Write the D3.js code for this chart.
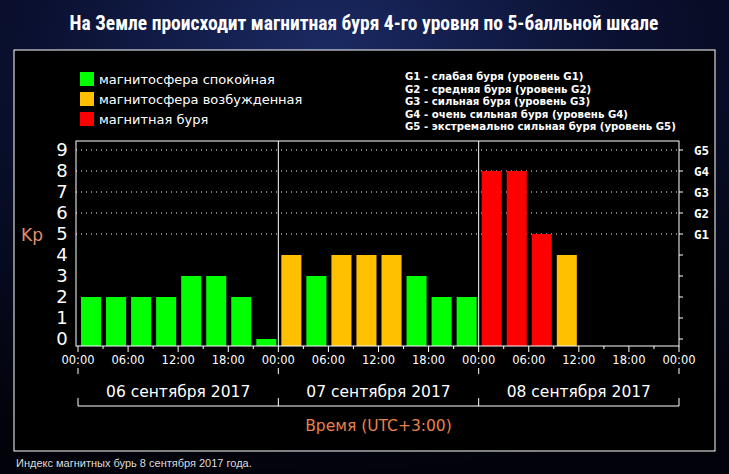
<!DOCTYPE html>
<html><head><meta charset="utf-8">
<script src="https://cdn.jsdelivr.net/npm/d3@7/dist/d3.min.js"></script>
<style>body{margin:0;background:#000}svg{display:block}</style>
</head><body><svg id="c" width="729" height="474"></svg>
<script>
const days = ["06 сентября 2017","07 сентября 2017","08 сентября 2017"];
const hours = ["00:00","06:00","12:00","18:00"];
const kpValues = [2,2,2,2,3,3,2,0, 4,3,4,4,4,3,2,2, 8,8,5,4];
const kpLevel  = ["q","q","q","q","q","q","q","q", "a","q","a","a","a","q","q","q", "s","s","s","a"];
const yTicks = [0,1,2,3,4,5,6,7,8,9];
const gLabels = ["G1","G2","G3","G4","G5"];
const gKp = [5,6,7,8,9];
const legendItems = [["q","магнитосфера спокойная"],["a","магнитосфера возбужденная"],["s","магнитная буря"]];
const gLegend = ["G1 - слабая буря (уровень G1)","G2 - средняя буря (уровень G2)","G3 - сильная буря (уровень G3)","G4 - очень сильная буря (уровень G4)","G5 - экстремально сильная буря (уровень G5)"];
const colors = {q:"#00ff00",a:"#ffc000",s:"#ff0000"};

const svg = d3.select("#c");
const defs = svg.append("defs");
const rg = defs.append("radialGradient").attr("id","bg").attr("cx","0.45").attr("cy","0.1").attr("r","0.9");
rg.append("stop").attr("offset","0").attr("stop-color","#1b2a63");
rg.append("stop").attr("offset","0.45").attr("stop-color","#0a1030");
rg.append("stop").attr("offset","1").attr("stop-color","#02030a");
svg.append("rect").attr("width",729).attr("height",474).attr("fill","url(#bg)");
svg.append("rect").attr("x",14).attr("y",50).attr("width",701).attr("height",401).attr("fill","#000").attr("stroke","#fff").attr("stroke-width",1);

svg.append("text").attr("x",364).attr("y",30).attr("text-anchor","middle").attr("fill","#fff")
  .attr("font-family","Liberation Sans Narrow, Roboto Condensed, sans-serif").attr("font-weight","bold").attr("font-size",19.5)
  .text("На Земле происходит магнитная буря 4-го уровня по 5-балльной шкале");

legendItems.forEach((d,i)=>{
  const y = 72 + i*20;
  svg.append("rect").attr("x",80).attr("y",y).attr("width",14).attr("height",14).attr("fill",colors[d[0]]);
  svg.append("text").attr("x",99).attr("y",y+12).attr("fill","#fff").attr("font-family","DejaVu Sans, sans-serif").attr("font-size",13).text(d[1]);
});
gLegend.forEach((t,i)=>{
  svg.append("text").attr("x",405).attr("y",80+i*12.5).attr("fill","#fff").attr("font-family","DejaVu Sans, sans-serif").attr("font-weight","bold").attr("font-size",10.2).text(t);
});

const L=76, R=679, T=141, B=346;
const x = d3.scaleLinear().domain([0,72]).range([78,679]);
const y = d3.scaleLinear().domain([0,9]).range([339,150]);

svg.append("g").selectAll("line").data(yTicks.filter(v=>v>=5)).join("line")
  .attr("x1",L).attr("x2",R).attr("y1",d=>y(d)).attr("y2",d=>y(d))
  .attr("stroke","#fff").attr("stroke-dasharray","1,4").attr("stroke-width",1);

svg.append("g").selectAll("rect").data(kpValues).join("rect")
  .attr("x",(d,i)=>x(i*3)+3).attr("width",x(3)-x(0)-5)
  .attr("y",d=>y(d)).attr("height",d=>B-y(d))
  .attr("fill",(d,i)=>colors[kpLevel[i]]);

svg.append("rect").attr("x",L).attr("y",T).attr("width",R-L).attr("height",B-T).attr("fill","none").attr("stroke","#fff");
[24,48].forEach(h=>svg.append("line").attr("x1",x(h)).attr("x2",x(h)).attr("y1",T).attr("y2",B).attr("stroke","#fff"));

svg.append("g").selectAll("text").data(yTicks).join("text")
  .attr("x",62).attr("y",d=>y(d)+6).attr("text-anchor","middle").attr("fill","#fff")
  .attr("font-family","DejaVu Sans, sans-serif").attr("font-size",18).text(d=>d);
svg.append("text").attr("x",32).attr("y",241).attr("text-anchor","middle").attr("fill","#e0906a")
  .attr("font-family","DejaVu Sans, sans-serif").attr("font-size",17).text("Kp");
svg.append("g").selectAll("line").data(yTicks).join("line")
  .attr("x1",R).attr("x2",R+4).attr("y1",d=>y(d)).attr("y2",d=>y(d)).attr("stroke","#fff");
svg.append("g").selectAll("text").data(gLabels).join("text")
  .attr("x",694).attr("y",(d,i)=>y(gKp[i])+5).attr("fill","#fff").attr("font-family","DejaVu Sans Mono, monospace").attr("font-weight","bold").attr("font-size",12.5).text(d=>d);

const ticks = d3.range(0,73,3);
svg.append("g").selectAll("line").data(ticks).join("line")
  .attr("x1",d=>x(d)).attr("x2",d=>x(d)).attr("y1",B).attr("y2",d=>d%6===0?B+6:B+3).attr("stroke","#fff");
const labelHours = d3.range(0,73,6);
svg.append("g").selectAll("text").data(labelHours).join("text")
  .attr("x",d=>x(d)).attr("y",364).attr("text-anchor","middle").attr("fill","#fff")
  .attr("font-family","DejaVu Sans, sans-serif").attr("font-size",11.5).text(d=>d===72?"00:00":hours[(d/6)%4]);

[0,24,48,72].forEach(h=>{
  svg.append("line").attr("x1",x(h)).attr("x2",x(h)).attr("y1",368).attr("y2",374).attr("stroke","#fff");
  svg.append("line").attr("x1",x(h)).attr("x2",x(h)).attr("y1",398).attr("y2",406).attr("stroke","#fff");
});
svg.append("line").attr("x1",x(0)).attr("x2",x(72)).attr("y1",406).attr("y2",406).attr("stroke","#fff");
svg.append("g").selectAll("text").data(days).join("text")
  .attr("x",(d,i)=>x(i*24+12)).attr("y",397).attr("text-anchor","middle").attr("fill","#fff")
  .attr("font-family","DejaVu Sans, sans-serif").attr("font-size",15.5).text(d=>d);
svg.append("text").attr("x",x(36)).attr("y",431).attr("text-anchor","middle").attr("fill","#e8824a")
  .attr("font-family","DejaVu Sans, sans-serif").attr("font-size",15.5).text("Время (UTC+3:00)");
svg.append("text").attr("x",16).attr("y",467).attr("fill","#ddd")
  .attr("font-family","Liberation Sans, Arial, sans-serif").attr("font-size",11).text("Индекс магнитных бурь 8 сентября 2017 года.");
</script></body></html>
